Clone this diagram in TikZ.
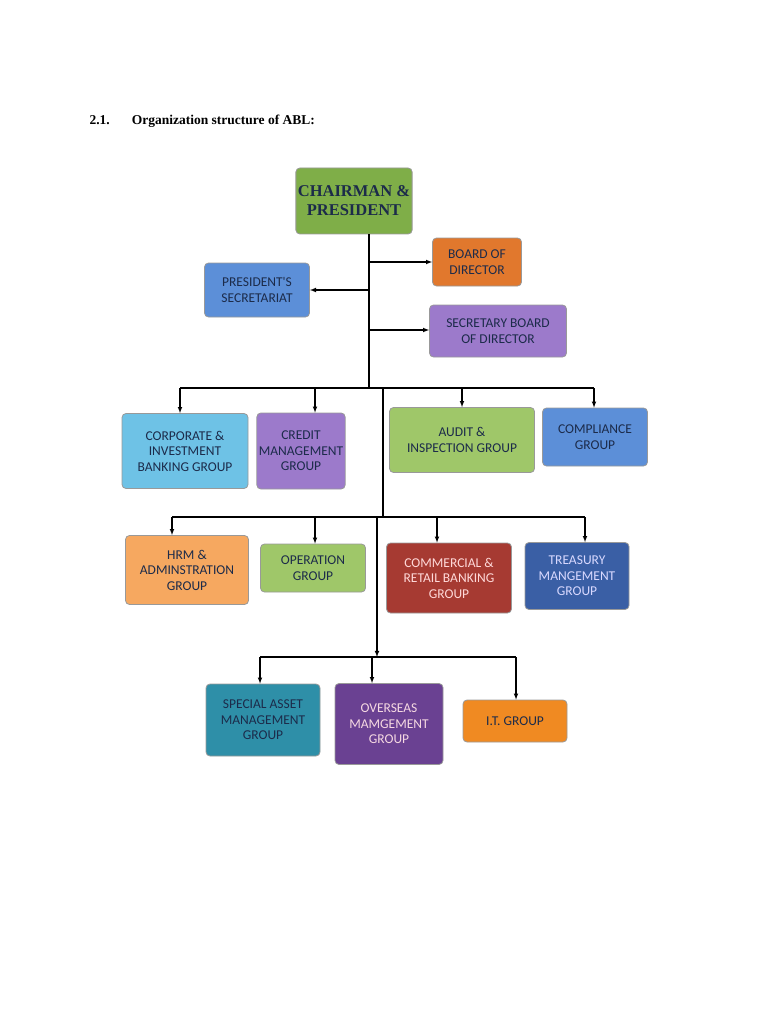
\documentclass[tikz,border=0pt]{standalone}
\usepackage{fontspec}
\setmainfont{Liberation Serif}
\newfontfamily\boxfont{Carlito}
\begin{document}
\begin{tikzpicture}[x=1pt,y=-1pt,
 bx/.style={draw=black!40,rounded corners=4pt,line width=0.8pt,align=center,font=\boxfont\fontsize{13.5}{15.5}\selectfont,inner sep=2pt},
 ar/.style={-latex,line width=1.1pt}]
\useasboundingbox (0,0) rectangle (768,1024);
\definecolor{cgreen}{HTML}{7FAE48}\definecolor{corange}{HTML}{E1782D}
\definecolor{cblue}{HTML}{5C8FD8}\definecolor{cpurple}{HTML}{9C7ACB}
\definecolor{clblue}{HTML}{6EC2E6}\definecolor{clgreen}{HTML}{9FC769}
\definecolor{clorange}{HTML}{F6A860}\definecolor{cred}{HTML}{A63A32}
\definecolor{cdblue}{HTML}{3A5FA5}\definecolor{cteal}{HTML}{2E8FA8}
\definecolor{cdpurple}{HTML}{6A4192}\definecolor{cor2}{HTML}{F08A22}
\definecolor{tx}{HTML}{1C2B4A}
\node[anchor=west,font=\bfseries\fontsize{13.5}{15}\selectfont] (title) at (86,121) {2.1.\hspace{22pt}Organization structure of ABL:};
\node[bx,fill=cgreen,text=tx,minimum width=112,minimum height=66,font=\rmfamily\bfseries\fontsize{16.5}{19}\selectfont] (ch) at (354,201) {CHAIRMAN \&\\PRESIDENT};
\node[bx,fill=corange,text=tx,minimum width=89,minimum height=48] (bod) at (477,262) {BOARD OF\\DIRECTOR};
\node[bx,fill=cblue,text=tx,minimum width=105,minimum height=54] (ps) at (257,290) {PRESIDENT'S\\SECRETARIAT};
\node[bx,fill=cpurple,text=tx,minimum width=137,minimum height=52] (sb) at (498,331) {SECRETARY BOARD\\OF DIRECTOR};
\node[bx,fill=clblue,text=tx,minimum width=126,minimum height=75] (c1) at (185,451) {CORPORATE \&\\INVESTMENT\\BANKING GROUP};
\node[bx,fill=cpurple,text=tx,minimum width=83,minimum height=76] (c2) at (301,451) {CREDIT\\MANAGEMENT\\GROUP};
\node[bx,fill=clgreen,text=tx,minimum width=145,minimum height=65] (c3) at (462,440) {AUDIT \&\\INSPECTION GROUP};
\node[bx,fill=cblue,text=tx,minimum width=105,minimum height=58] (c4) at (595,437) {COMPLIANCE\\GROUP};
\node[bx,fill=clorange,text=tx,minimum width=123,minimum height=69] (d1) at (187,570) {HRM \&\\ADMINSTRATION\\GROUP};
\node[bx,fill=clgreen,text=tx,minimum width=105,minimum height=48] (d2) at (313,568) {OPERATION\\GROUP};
\node[bx,fill=cred,text=white!85!red,minimum width=125,minimum height=70] (d3) at (449,578) {COMMERCIAL \&\\RETAIL BANKING\\GROUP};
\node[bx,fill=cdblue,text=white!85!blue,minimum width=104,minimum height=67] (d4) at (577,576) {TREASURY\\MANGEMENT\\GROUP};
\node[bx,fill=cteal,text=tx,minimum width=114,minimum height=72] (e1) at (263,720) {SPECIAL ASSET\\MANAGEMENT\\GROUP};
\node[bx,fill=cdpurple,text=white!85!purple,minimum width=108,minimum height=81] (e2) at (389,724) {OVERSEAS\\MAMGEMENT\\GROUP};
\node[bx,fill=cor2,text=tx,minimum width=104,minimum height=42] (e3) at (515,721) {I.T. GROUP};
\coordinate (t1) at (369,388); \coordinate (t2) at (383,517); \coordinate (t3) at (377,657);
\draw[line width=1.1pt] (ch.south -| t1) -- (t1);
\draw[ar] (369,262) -- (bod.west|-369,262);
\draw[ar] (369,290) -- (ps.east);
\draw[ar] (369,330) -- (sb.west|-369,330);
\draw[line width=1.1pt] (180,388) -- (594,388);
\foreach \n/\x in {c1/180,c2/315,c3/462,c4/594}\draw[ar] (\x,388) -- (\x,0|-\n.north);
\draw[line width=1.1pt] (383,388) -- (t2);
\draw[line width=1.1pt] (172,517) -- (585,517);
\foreach \n/\x in {d1/172,d2/315,d3/437,d4/585}\draw[ar] (\x,517) -- (\x,0|-\n.north);
\draw[ar] (377,517) -- (t3);
\draw[line width=1.1pt] (260,657) -- (516,657);
\foreach \n/\x in {e1/260,e2/372,e3/516}\draw[ar] (\x,657) -- (\x,0|-\n.north);
\end{tikzpicture}
\end{document}
